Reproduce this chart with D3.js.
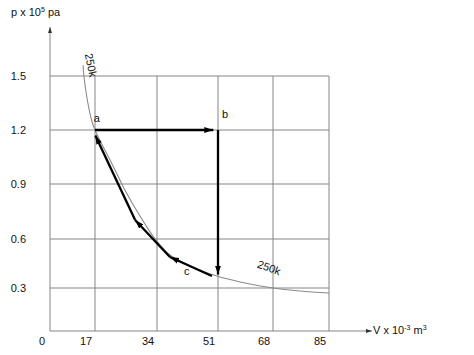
<!DOCTYPE html>
<html>
<head>
<meta charset="utf-8">
<script src="https://cdn.jsdelivr.net/npm/d3@7/dist/d3.min.js"></script>
<style>
  html, body { margin: 0; padding: 0; background: #fff; }
  svg { display: block; font-family: "Liberation Sans", Arial, sans-serif; }
</style>
</head>
<body>
<svg id="chart" width="474" height="355"></svg>
<script>
// ---- data ----
const xTicks = [0, 17, 34, 51, 68, 85];
const yTicks = [0.3, 0.6, 0.9, 1.2, 1.5];
// isotherm 250 K
const isoV = [12.5, 12.8, 15.4, 17, 19.7, 22.5, 25.2, 28, 30.7, 33.5, 37.6, 43.2, 50.7, 57.8, 68, 76.2, 85];
const isoP = [1.56, 1.5, 1.272, 1.2, 1.089, 0.978, 0.867, 0.769, 0.682, 0.6, 0.502, 0.435, 0.373, 0.337, 0.3, 0.279, 0.265];
// process segments (V1, p1, V2, p2)
const segV1 = [17, 51, 49.3, 37.6, 28];
const segP1 = [1.2, 1.2, 0.373, 0.49, 0.704];
const segV2 = [49.7, 51, 37.6, 28, 17.1];
const segP2 = [1.2, 0.382, 0.49, 0.704, 1.17];
// state labels
const stateNames = ["a", "b", "c"];
const stateV = [17.5, 53.2, 42.3];
const stateP = [1.267, 1.29, 0.406];
// isotherm labels
const isoLabels = ["250k", "250k"];
const isoLabelV = [15.5, 66.8];
const isoLabelP = [1.56, 0.425];

// ---- layout ----
const svg = d3.select("#chart");
const x = d3.scaleLinear().domain(xTicks.slice()).range([50, 95, 157, 218, 273, 329]);
const y = d3.scaleLinear().domain([0].concat(yTicks)).range([331, 288, 239, 184, 130, 76]);

const gridColor = "#858585";

const defs = svg.append("defs");
defs.append("marker").attr("id", "arr")
  .attr("viewBox", "0 -4 9 8").attr("refX", 9).attr("refY", 0)
  .attr("markerWidth", 9).attr("markerHeight", 8)
  .attr("markerUnits", "userSpaceOnUse").attr("orient", "auto")
  .append("path").attr("d", "M0,-3L9,0L0,3Z").attr("fill", "#000");
defs.append("marker").attr("id", "axarr")
  .attr("viewBox", "0 -3 6 6").attr("refX", 6).attr("refY", 0)
  .attr("markerWidth", 6).attr("markerHeight", 6)
  .attr("markerUnits", "userSpaceOnUse").attr("orient", "auto")
  .append("path").attr("d", "M0,-2L6,0L0,2Z").attr("fill", "#333");

// grid
const x0 = x(0), xMax = x(85), y0 = y(0), yMax = y(1.5);
svg.append("g").selectAll("line").data(yTicks).join("line")
  .attr("x1", x0).attr("x2", xMax).attr("y1", d => y(d)).attr("y2", d => y(d))
  .attr("stroke", gridColor).attr("stroke-width", 1);
svg.append("g").selectAll("line").data(xTicks.slice(1)).join("line")
  .attr("x1", d => x(d)).attr("x2", d => x(d)).attr("y1", y0).attr("y2", yMax)
  .attr("stroke", gridColor).attr("stroke-width", 1);

// axes
svg.append("line").attr("x1", x0).attr("x2", x0).attr("y1", y0).attr("y2", 27)
  .attr("stroke", gridColor).attr("stroke-width", 1).attr("marker-end", "url(#axarr)");
svg.append("line").attr("x1", x0).attr("x2", 372).attr("y1", y0).attr("y2", y0)
  .attr("stroke", gridColor).attr("stroke-width", 1).attr("marker-end", "url(#axarr)");

// tick labels
svg.append("g").selectAll("text").data(yTicks).join("text")
  .attr("x", 26).attr("y", d => y(d)).attr("dy", "0.35em")
  .attr("text-anchor", "end").attr("font-size", 11).attr("fill", "#111")
  .text(d => d.toFixed(1));
svg.append("g").selectAll("text").data(xTicks).join("text")
  .attr("x", d => x(d) - (d === 0 ? 8 : 9)).attr("y", 345)
  .attr("text-anchor", "middle").attr("font-size", 11).attr("fill", "#111")
  .text(d => d);

// axis titles
const yt = svg.append("text").attr("x", 11).attr("y", 16).attr("font-size", 11).attr("fill", "#111");
yt.append("tspan").text("p x 10");
yt.append("tspan").attr("font-size", 7).attr("dy", -4).text("5");
yt.append("tspan").attr("dy", 4).text(" pa");
const xt = svg.append("text").attr("x", 373).attr("y", 334).attr("font-size", 11).attr("fill", "#111");
xt.append("tspan").text("V x 10");
xt.append("tspan").attr("font-size", 7).attr("dy", -4).text("-3");
xt.append("tspan").attr("dy", 4).text(" m");
xt.append("tspan").attr("font-size", 7).attr("dy", -4).text("3");

// isotherm
const iso = isoV.map((v, i) => [x(v), y(isoP[i])]);
svg.append("path").attr("d", d3.line().curve(d3.curveCatmullRom.alpha(0.5))(iso))
  .attr("fill", "none").attr("stroke", "#8a8a8a").attr("stroke-width", 1.1);

// process arrows
svg.append("g").selectAll("line").data(segV1).join("line")
  .attr("x1", (d, i) => x(segV1[i])).attr("y1", (d, i) => y(segP1[i]))
  .attr("x2", (d, i) => x(segV2[i])).attr("y2", (d, i) => y(segP2[i]))
  .attr("stroke", "#000").attr("stroke-width", 2.3)
  .attr("marker-end", "url(#arr)");

// state labels
svg.append("g").selectAll("text").data(stateNames).join("text")
  .attr("x", (d, i) => x(stateV[i])).attr("y", (d, i) => y(stateP[i])).attr("dy", "0.35em")
  .attr("text-anchor", "middle").attr("font-size", 11).attr("fill", "#111")
  .text(d => d);

// isotherm labels
const rot = [78, 20];
svg.append("g").selectAll("text").data(isoLabels).join("text")
  .attr("transform", (d, i) => `translate(${x(isoLabelV[i])},${y(isoLabelP[i])}) rotate(${rot[i]})`)
  .attr("text-anchor", "middle").attr("dy", "0.35em").attr("font-size", 11).attr("fill", "#111")
  .text(d => d);
</script>
</body>
</html>
